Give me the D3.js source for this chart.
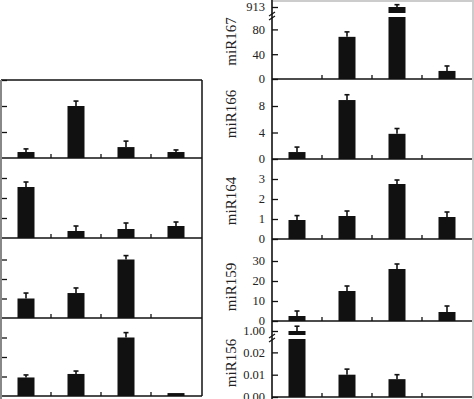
<!DOCTYPE html>
<html>
<head>
<meta charset="utf-8">
<script src="https://cdn.jsdelivr.net/npm/d3@7"></script>
<style>
  body { margin: 0; background: #fff; }
  svg { display: block; font-family: "Liberation Serif", "DejaVu Serif", serif; }
</style>
</head>
<body>
<svg id="chart" width="474" height="399"></svg>
<script>
// four samples, unnamed in the figure
const samples = ['s1', 's2', 's3', 's4'];

// left column (labels cropped out of the figure)
const leftA = [0.23, 2.0, 0.42, 0.23];
const leftAErr = [0.12, 0.19, 0.23, 0.08];
const leftB = [2.55, 0.35, 0.45, 0.6];
const leftBErr = [0.25, 0.25, 0.3, 0.2];
const leftC = [1.0, 1.28, 3.0, 0];
const leftCErr = [0.28, 0.26, 0.2, 0];
const leftD = [0.95, 1.13, 3.0, 0.15];
const leftDErr = [0.13, 0.15, 0.25, 0];
const leftTicks = [1, 2, 3];

// right column
const miR167 = [0, 68, 913, 13];
const miR167Err = [0, 8, 5, 8];
const miR167Ticks = [0, 40, 80, 913];
const miR166 = [1.05, 8.9, 3.8, 0];
const miR166Err = [0.75, 0.8, 0.8, 0];
const miR166Ticks = [0, 4, 8];
const miR164 = [0.95, 1.15, 2.75, 1.1];
const miR164Err = [0.22, 0.25, 0.2, 0.25];
const miR164Ticks = [0, 1, 2, 3];
const miR159 = [2.5, 15, 26, 4.5];
const miR159Err = [2.5, 2.5, 2.5, 3];
const miR159Ticks = [0, 10, 20, 30];
const miR156 = [1.0, 0.010, 0.008, 0];
const miR156Err = [0.012, 0.0025, 0.002, 0];
const miR156Ticks = [0, 0.01, 0.02, 1.0];

let svg = d3.select('#chart');

function drawPanel(p) {
  let x = d3.scaleBand()
    .domain(samples)
    .range([p.x0, p.x0 + 200])
    .paddingInner(0.66)
    .paddingOuter(0.33);

  let y = d3.scaleLinear().domain(p.domain).range(p.range);
  let bottom = p.range[0];
  let g = svg.append('g');

  // bars, split in two pieces when the axis is broken
  samples.forEach((s, i) => {
    let v = p.values[i];
    if (!v) return;
    if (p.brk && v > p.brk[0]) {
      g.append('rect').attr('fill', '#111')
        .attr('x', x(s)).attr('width', x.bandwidth())
        .attr('y', y(p.brk[0])).attr('height', bottom - y(p.brk[0]));
      g.append('rect').attr('fill', '#111')
        .attr('x', x(s)).attr('width', x.bandwidth())
        .attr('y', y(v)).attr('height', y(p.brk[1]) - y(v));
    } else {
      g.append('rect').attr('fill', '#111')
        .attr('x', x(s)).attr('width', x.bandwidth())
        .attr('y', y(v)).attr('height', bottom - y(v));
    }
    let e = p.errs[i];
    if (e) {
      let cx = x(s) + x.bandwidth() / 2;
      g.append('line').attr('stroke', '#111').attr('stroke-width', 1.6)
        .attr('x1', cx).attr('x2', cx).attr('y1', y(v)).attr('y2', y(v + e));
      g.append('line').attr('stroke', '#111').attr('stroke-width', 1.6)
        .attr('x1', cx - 2.5).attr('x2', cx + 2.5).attr('y1', y(v + e)).attr('y2', y(v + e));
    }
  });

  // x axis line with small ticks between the samples
  g.append('line').attr('stroke', '#111').attr('stroke-width', 1.5)
    .attr('x1', p.x0).attr('x2', p.x0 + 201).attr('y1', bottom).attr('y2', bottom);
  for (let i = 1; i < samples.length; i++) {
    let tx = (x(samples[i - 1]) + x(samples[i]) + x.bandwidth()) / 2;
    g.append('line').attr('stroke', '#111').attr('stroke-width', 1.3)
      .attr('x1', tx).attr('x2', tx).attr('y1', bottom).attr('y2', bottom - 4);
  }

  // y axis (ticks pointing inward)
  let axis = d3.axisRight(y).tickValues(p.ticks).tickSize(6).tickFormat('');
  let ag = g.append('g').attr('transform', `translate(${p.x0},0)`).call(axis);
  ag.select('.domain').remove();
  ag.selectAll('.tick line').attr('stroke', '#111').attr('stroke-width', 1.3);

  if (p.label) {
    g.selectAll('text.tl')
      .data(p.ticks)
      .enter().append('text')
      .attr('class', 'tl')
      .attr('x', p.x0 - 7)
      .attr('y', d => y(d))
      .attr('dy', '0.35em')
      .attr('text-anchor', 'end')
      .attr('font-size', 12.5)
      .attr('fill', '#222')
      .text(p.fmt);

    let cy = (p.top + bottom) / 2;
    g.append('text')
      .attr('transform', `translate(${p.x0 - 41},${cy + p.labelShift}) rotate(-90)`)
      .attr('text-anchor', 'middle')
      .attr('dy', '0.35em')
      .attr('font-size', 15)
      .attr('fill', '#222')
      .text(p.label);
  }

  if (p.brk) {
    let by = (y(p.brk[0]) + y(p.brk[1])) / 2 + 1;
    g.append('rect').attr('fill', '#fff')
      .attr('x', p.x0 - 3).attr('y', by - 2).attr('width', 6).attr('height', 4);
    [-2, 2].forEach(d => {
      g.append('line').attr('stroke', '#111').attr('stroke-width', 1.2)
        .attr('x1', p.x0 - 3).attr('x2', p.x0 + 3)
        .attr('y1', by + d + 2).attr('y2', by + d - 2);
    });
  }
}

const fmtInt = d3.format('d');

// left column
[
  {values: leftA, errs: leftAErr, domain: [0, 3], range: [158, 80], top: 80},
  {values: leftB, errs: leftBErr, domain: [0, 4], range: [238, 158], top: 158},
  {values: leftC, errs: leftCErr, domain: [0, 4], range: [318, 240], top: 238},
  {values: leftD, errs: leftDErr, domain: [0, 4], range: [396, 318], top: 318}
].forEach(p => drawPanel(Object.assign({x0: 1, ticks: leftTicks}, p)));

// left column frame
svg.append('line').attr('stroke', '#111').attr('stroke-width', 1.5)
  .attr('x1', 1).attr('x2', 202).attr('y1', 80).attr('y2', 80);
svg.append('line').attr('stroke', '#111').attr('stroke-width', 1.5)
  .attr('x1', 202).attr('x2', 202).attr('y1', 80).attr('y2', 396);
svg.append('line').attr('stroke', '#888').attr('stroke-width', 2)
  .attr('x1', 1).attr('x2', 1).attr('y1', 80).attr('y2', 399);

// right column
[
  {label: 'miR167', values: miR167, errs: miR167Err, ticks: miR167Ticks, fmt: fmtInt,
   domain: [0, 100, 900, 913], range: [79, 17, 13, 7], brk: [100, 900], top: 0, labelShift: 2},
  {label: 'miR166', values: miR166, errs: miR166Err, ticks: miR166Ticks, fmt: fmtInt,
   domain: [0, 8], range: [159, 106], top: 79, labelShift: -5},
  {label: 'miR164', values: miR164, errs: miR164Err, ticks: miR164Ticks, fmt: fmtInt,
   domain: [0, 3], range: [239, 179], top: 159, labelShift: 2},
  {label: 'miR159', values: miR159, errs: miR159Err, ticks: miR159Ticks, fmt: fmtInt,
   domain: [0, 30], range: [321, 261], top: 239, labelShift: 7},
  {label: 'miR156', values: miR156, errs: miR156Err, ticks: miR156Ticks, fmt: d3.format('.2f'),
   domain: [0, 0.026, 0.99, 1.0], range: [397, 339, 335, 331], brk: [0.026, 0.99], top: 321, labelShift: 4}
].forEach(p => drawPanel(Object.assign({x0: 272}, p)));

// right column axis and crop edges
svg.append('line').attr('stroke', '#111').attr('stroke-width', 1.6)
  .attr('x1', 272).attr('x2', 272).attr('y1', 0).attr('y2', 399);
svg.append('line').attr('stroke', '#ccc').attr('stroke-width', 2)
  .attr('x1', 273).attr('x2', 474).attr('y1', 1).attr('y2', 1);
svg.append('line').attr('stroke', '#ccc').attr('stroke-width', 2)
  .attr('x1', 473).attr('x2', 473).attr('y1', 0).attr('y2', 399);
</script>
</body>
</html>
